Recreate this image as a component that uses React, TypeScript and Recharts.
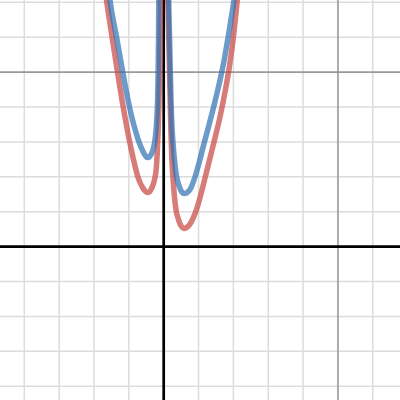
import { LineChart, Line, XAxis, YAxis, ReferenceLine } from "recharts"

// x / y readings for each branch of the two curves (graph units, one minor grid cell = 1)
const redLeftX = [-1.713, -1.641, -1.483, -1.331, -1.197, -1.096, -0.987, -0.864, -0.743, -0.68, -0.614, -0.551, -0.502, -0.459, -0.413, -0.37, -0.327, -0.287, -0.25, -0.212, -0.184, -0.158, -0.135, -0.118, -0.103, -0.092, -0.083]
const redLeftY = [7.639, 7.066, 6.014, 5.04, 4.201, 3.628, 3.054, 2.481, 2.003, 1.837, 1.708, 1.613, 1.564, 1.547, 1.564, 1.622, 1.713, 1.831, 1.98, 2.252, 2.711, 3.341, 4.143, 5.06, 6.063, 7.066, 7.926]

const redRightX = [0.106, 0.118, 0.143, 0.166, 0.192, 0.209, 0.232, 0.261, 0.301, 0.353, 0.41, 0.468, 0.525, 0.582, 0.669, 0.755, 0.841, 0.927, 1.013, 1.099, 1.271, 1.443, 1.615, 1.759, 1.888, 1.997, 2.112, 2.189]
const redRightY = [7.782, 7.066, 6.063, 5.04, 3.914, 3.198, 2.539, 2.052, 1.507, 1.052, 0.817, 0.65, 0.553, 0.519, 0.553, 0.648, 0.811, 1.02, 1.298, 1.622, 2.309, 2.997, 3.713, 4.43, 5.175, 5.977, 7.066, 7.84]

const blueLeftX = [-1.618, -1.541, -1.354, -1.182, -1.024, -0.915, -0.809, -0.709, -0.628, -0.565, -0.508, -0.459, -0.413, -0.37, -0.327, -0.287, -0.25, -0.215, -0.195, -0.175, -0.161, -0.149, -0.141, -0.135]
const blueLeftY = [7.782, 7.066, 6.014, 5.04, 4.201, 3.713, 3.312, 2.997, 2.797, 2.668, 2.579, 2.55, 2.567, 2.625, 2.716, 2.854, 3.054, 3.398, 3.713, 4.201, 4.917, 5.92, 7.066, 7.926]

const blueRightX = [0.132, 0.143, 0.166, 0.192, 0.209, 0.232, 0.261, 0.301, 0.353, 0.41, 0.468, 0.525, 0.582, 0.669, 0.755, 0.898, 1.013, 1.156, 1.3, 1.443, 1.587, 1.73, 1.845, 1.931, 2.017, 2.103]
const blueRightY = [7.782, 7.066, 6.04, 4.917, 4.201, 3.542, 3.054, 2.567, 2.109, 1.837, 1.665, 1.556, 1.519, 1.547, 1.636, 1.994, 2.395, 2.954, 3.484, 4.043, 4.645, 5.318, 5.977, 6.507, 7.066, 7.696]

const minorX = [-4, -3, -2, -1, 1, 2, 3, 4, 6]
const minorY = [-4, -3, -2, -1, 1, 2, 3, 4, 6, 7]
const majorX = [5]
const majorY = [5]

const xDomain = [-4.697, 6.78]
const yDomain = [-4.395, 7.066]

const zip = (xs: number[], ys: number[]) => xs.map((x, i) => ({ x, y: ys[i] }))

const RED = "#c74440"
const BLUE = "#2d70b3"

export default function App() {
  const curves = [
    { key: "rl", data: zip(redLeftX, redLeftY), color: RED },
    { key: "rr", data: zip(redRightX, redRightY), color: RED },
    { key: "bl", data: zip(blueLeftX, blueLeftY), color: BLUE },
    { key: "br", data: zip(blueRightX, blueRightY), color: BLUE },
  ]
  return (
    <div style={{ position: "absolute", left: 0, top: 0, width: 400, height: 400, background: "#fff" }}>
      <LineChart width={400} height={400} margin={{ top: 0, right: 0, bottom: 0, left: 0 }}>
        <XAxis type="number" dataKey="x" domain={xDomain} allowDataOverflow hide />
        <YAxis type="number" dataKey="y" domain={yDomain} allowDataOverflow hide />
        {minorX.map((v) => (
          <ReferenceLine key={"mx" + v} x={v} stroke="#dcdcdc" strokeWidth={1.5} />
        ))}
        {minorY.map((v) => (
          <ReferenceLine key={"my" + v} y={v} stroke="#dcdcdc" strokeWidth={1.5} />
        ))}
        {majorX.map((v) => (
          <ReferenceLine key={"Mx" + v} x={v} stroke="#999999" strokeWidth={1.6} />
        ))}
        {majorY.map((v) => (
          <ReferenceLine key={"My" + v} y={v} stroke="#999999" strokeWidth={1.6} />
        ))}
        <ReferenceLine x={0} stroke="#000" strokeWidth={2.7} />
        <ReferenceLine y={0} stroke="#000" strokeWidth={2.7} />
        {curves.map((c) => (
          <Line
            key={c.key}
            data={c.data}
            dataKey="y"
            type="monotone"
            stroke={c.color}
            strokeOpacity={0.7}
            strokeWidth={5.5}
            strokeLinejoin="round"
            dot={false}
            activeDot={false}
            isAnimationActive={false}
          />
        ))}
      </LineChart>
    </div>
  )
}
